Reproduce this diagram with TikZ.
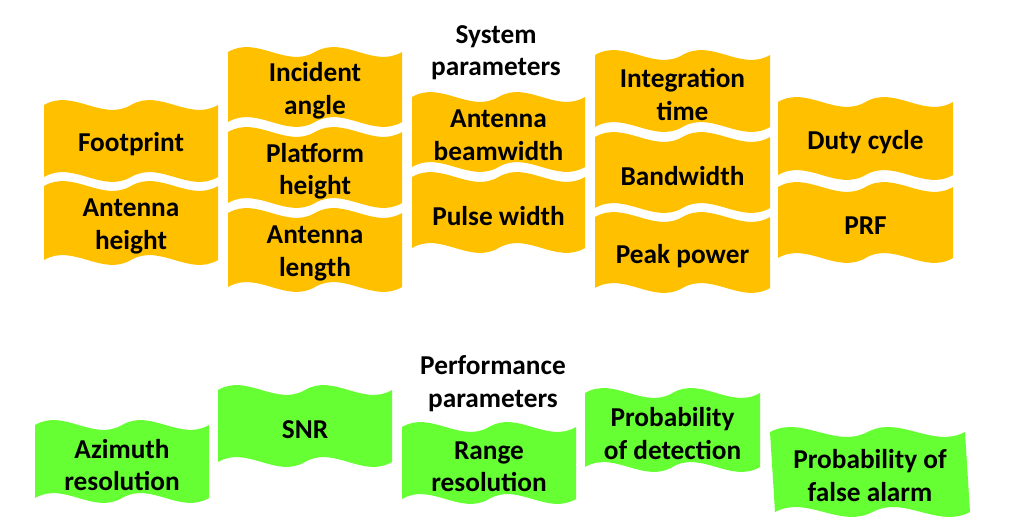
\documentclass[tikz,border=0pt]{standalone}
\usepackage{fontspec}
\setmainfont{Carlito}
\definecolor{gold}{RGB}{255,192,0}
\definecolor{lgreen}{RGB}{102,255,51}
\newcommand\wbox[8]{% name, x1, yt, x2, yb, colour, text, bottom shift
  \pgfmathsetmacro\wS{(#4-#2)/6}%
  \pgfmathsetmacro\wD{17}%
  \pgfmathsetmacro\xa{#2+\wS}\pgfmathsetmacro\xb{#2+2*\wS}\pgfmathsetmacro\xc{#2+3*\wS}%
  \pgfmathsetmacro\xd{#2+4*\wS}\pgfmathsetmacro\xe{#2+5*\wS}%
  \pgfmathsetmacro\ytu{#3-\wD}\pgfmathsetmacro\ytd{#3+\wD}%
  \pgfmathsetmacro\ybu{#5-\wD}\pgfmathsetmacro\ybd{#5+\wD}%
  \fill[#6] (#2,#3) .. controls (\xa,\ytu) and (\xb,\ytd) .. (\xc,#3)
    .. controls (\xd,\ytu) and (\xe,\ytd) .. (#4,#3)
    -- (#4+#8,#5) .. controls (\xe+#8,\ybd) and (\xd+#8,\ybu) .. (\xc+#8,#5)
    .. controls (\xb+#8,\ybd) and (\xa+#8,\ybu) .. (#2+#8,#5) -- cycle;
  \node[lbl] (#1) at ({(#2+#4+#8)/2},{(#3+#5)/2}) {#7};
}
\begin{document}
\begin{tikzpicture}[x=1pt,y=-1pt,
  lbl/.style={font=\fontsize{27.3}{32.5}\selectfont\bfseries, align=center, text=black, inner sep=0pt, yshift=-3.5pt}]
\useasboundingbox (0,0) rectangle (1036,529);
% System parameters
\node[lbl] (sys) at (496,49) {System\\parameters};
\wbox{foot}{44}{105}{218}{177}{gold}{Footprint}{0}
\wbox{anth}{44}{186}{218}{260}{gold}{Antenna\\height}{0}
\wbox{inc}{228}{52}{402}{122}{gold}{Incident\\angle}{0}
\wbox{plat}{228}{132}{402}{203}{gold}{Platform\\height}{0}
\wbox{antl}{228}{213}{402}{287}{gold}{Antenna\\length}{0}
\wbox{beam}{412}{97}{585}{167}{gold}{Antenna\\beamwidth}{0}
\wbox{pulse}{412}{177}{585}{248}{gold}{Pulse width}{0}
\wbox{integ}{595}{55}{770}{127}{gold}{Integration\\time}{0}
\wbox{band}{595}{137}{770}{208}{gold}{Bandwidth}{0}
\wbox{peak}{595}{217}{770}{288}{gold}{Peak power}{0}
\wbox{duty}{778}{102}{953}{175}{gold}{Duty cycle}{0}
\wbox{prf}{778}{187}{953}{258}{gold}{PRF}{0}
% Performance parameters
\node[lbl] (perf) at (493,380) {Performance\\parameters};
\wbox{azi}{35}{425}{209}{498}{lgreen}{Azimuth\\resolution}{0}
\wbox{snr}{218}{390}{392}{462}{lgreen}{SNR}{0}
\wbox{range}{402}{427}{576}{499}{lgreen}{Range\\resolution}{0}
\wbox{pd}{585}{393}{760}{467}{lgreen}{Probability\\of detection}{0}
\wbox{pfa}{770}{432}{965}{512}{lgreen}{Probability of\\false alarm}{5}
\end{tikzpicture}
\end{document}
